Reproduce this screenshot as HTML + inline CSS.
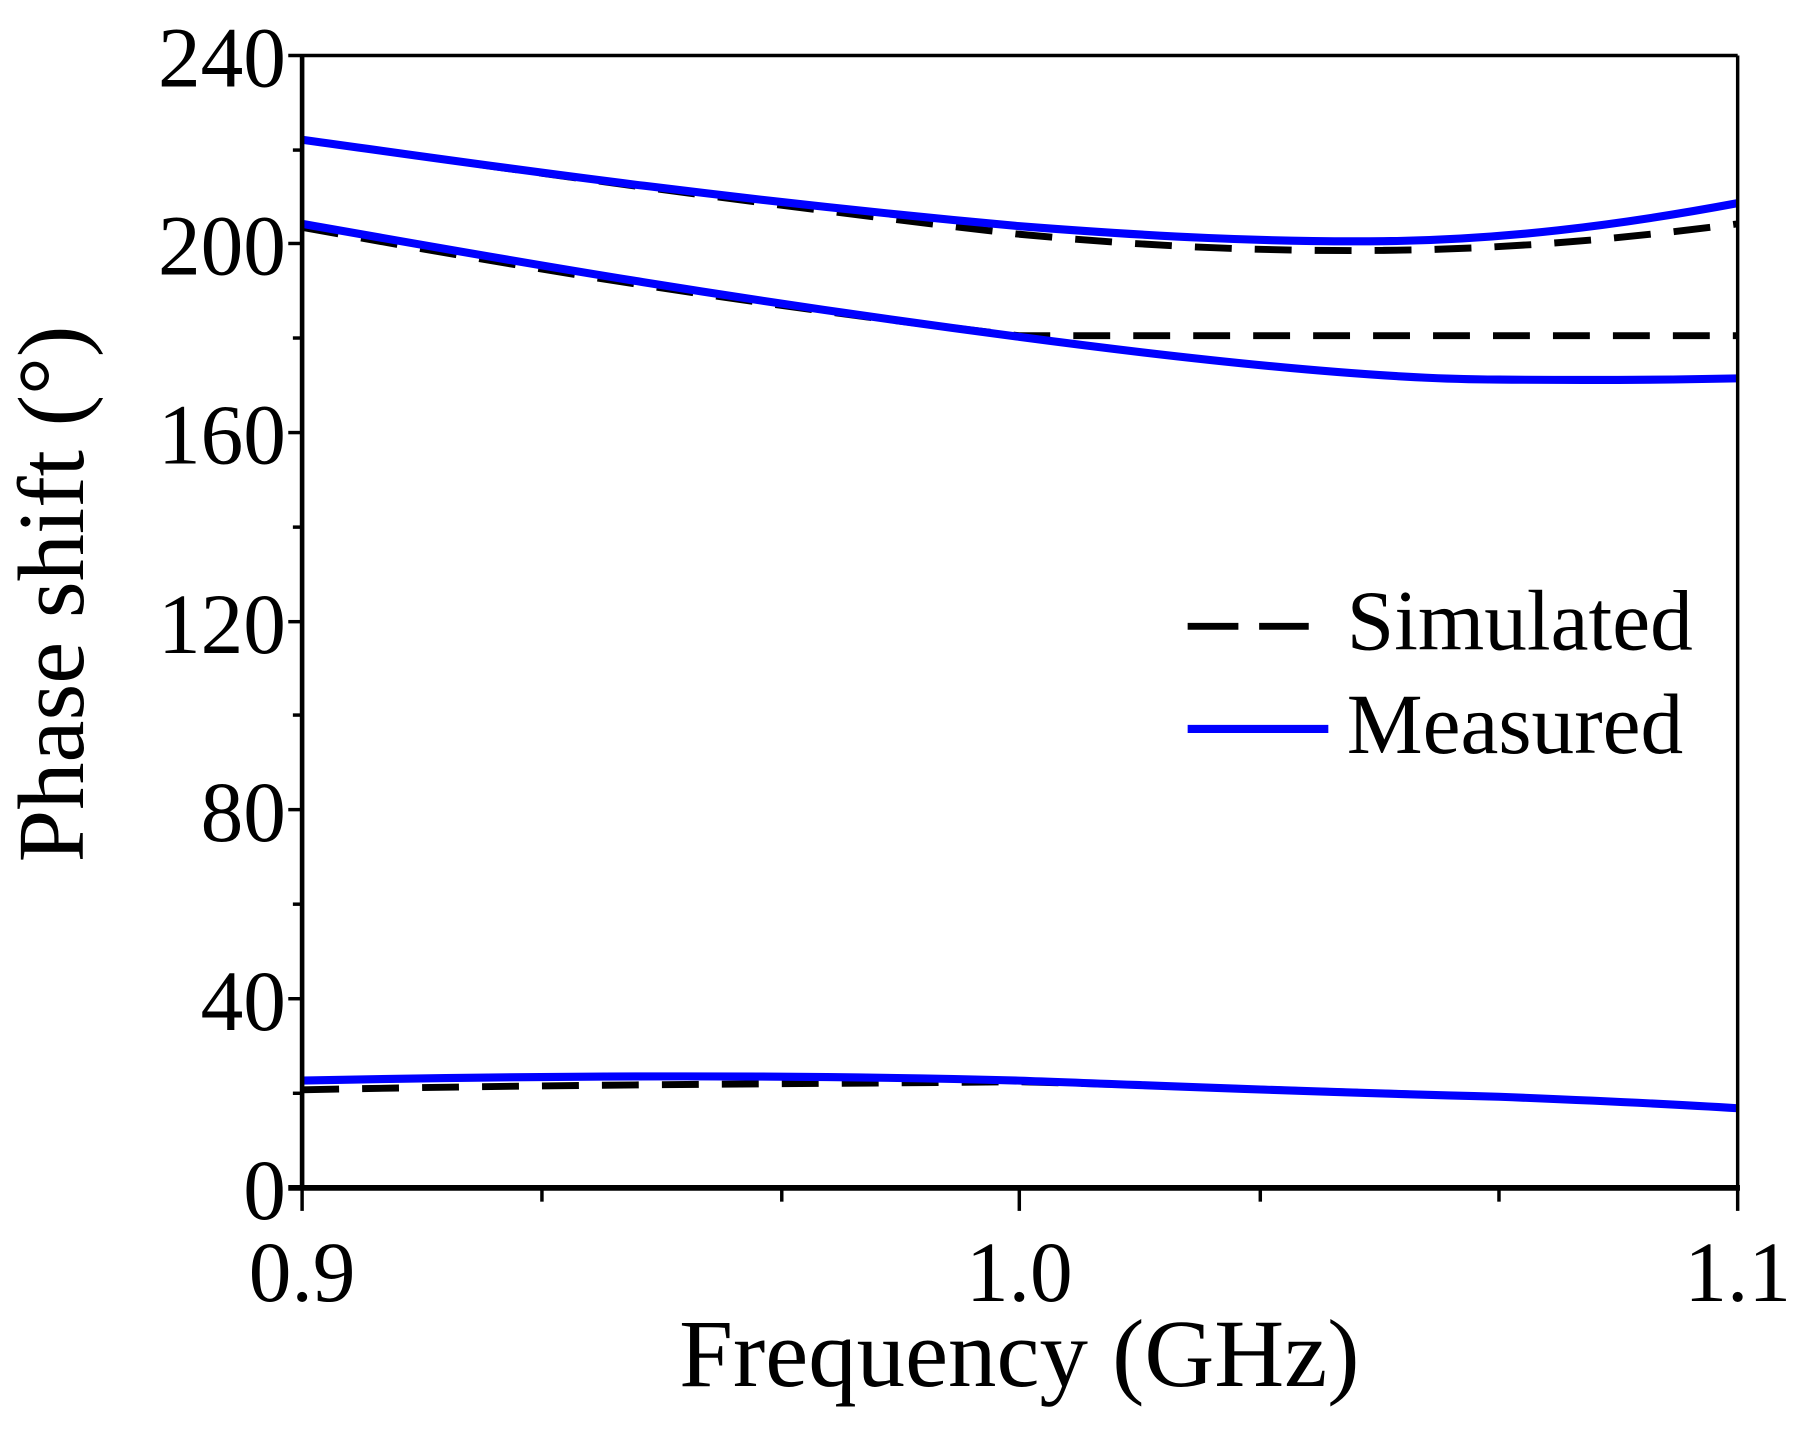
<!DOCTYPE html>
<html><head><meta charset="utf-8"><style>html,body{margin:0;padding:0;background:#fff}svg{display:block}</style></head>
<body>
<svg width="1808" height="1429" viewBox="0 0 1568 1239" xmlns="http://www.w3.org/2000/svg" font-family="Liberation Serif, serif">
<rect width="1568" height="1239" fill="#fff"/>
<g fill="none" stroke-linecap="butt" stroke-linejoin="round">
<path d="M262,121 C400,140 600,170 884,203 C1000,214 1100,218 1200,217 C1300,216 1400,208 1507,194" stroke="#000" stroke-width="6" stroke-dasharray="32,20"/>
<path d="M262,197 C400,222 600,258 884,291 L1507,291" stroke="#000" stroke-width="6" stroke-dasharray="32,20"/>
<path d="M262,945 C500,940 700,940 884,938 C1000,941 1100,945 1300,951 C1400,955 1460,958 1507,961" stroke="#000" stroke-width="6" stroke-dasharray="32,20"/>
<path d="M262,121 C400,140 600,170 884,196 C1000,205 1100,210 1200,209 C1300,208 1400,196 1507,176" stroke="#0000ff" stroke-width="7"/>
<path d="M262,194 C400,218 600,255 884,292 C1050,314 1200,329 1300,329 C1400,330 1460,329 1507,328" stroke="#0000ff" stroke-width="7"/>
<path d="M262,937 C500,932 700,932 884,937 C1000,941 1100,946 1300,951 C1400,955 1460,958 1507,961" stroke="#0000ff" stroke-width="7"/>
</g>
<g stroke="#000" fill="none">
<line x1="262" y1="48" x2="262" y2="1032" stroke-width="4"/>
<line x1="250" y1="1030" x2="1509" y2="1030" stroke-width="5"/>
<line x1="250" y1="48" x2="1507" y2="48" stroke-width="3"/>
<line x1="1507" y1="48" x2="1507" y2="1050" stroke-width="3"/>
<g stroke-width="3">
<line x1="250" y1="211" x2="262" y2="211"/><line x1="250" y1="375" x2="262" y2="375"/>
<line x1="250" y1="539" x2="262" y2="539"/><line x1="250" y1="702" x2="262" y2="702"/>
<line x1="250" y1="866" x2="262" y2="866"/>
<line x1="254" y1="130" x2="262" y2="130"/><line x1="254" y1="293" x2="262" y2="293"/>
<line x1="254" y1="457" x2="262" y2="457"/><line x1="254" y1="620" x2="262" y2="620"/>
<line x1="254" y1="784" x2="262" y2="784"/><line x1="254" y1="948" x2="262" y2="948"/>
<line x1="262" y1="1030" x2="262" y2="1050"/><line x1="884" y1="1030" x2="884" y2="1050"/>
<line x1="470" y1="1030" x2="470" y2="1042"/><line x1="678" y1="1030" x2="678" y2="1042"/>
<line x1="1093" y1="1030" x2="1093" y2="1042"/><line x1="1300" y1="1030" x2="1300" y2="1042"/>
</g>
</g>
<g font-size="74" fill="#000" text-anchor="end">
<text x="248" y="75">240</text><text x="248" y="238">200</text><text x="248" y="402">160</text>
<text x="248" y="566">120</text><text x="248" y="729">80</text><text x="248" y="893">40</text>
<text x="248" y="1057">0</text>
</g>
<g font-size="74" fill="#000" text-anchor="middle">
<text x="262" y="1128">0.9</text><text x="884" y="1128">1.0</text><text x="1507" y="1128">1.1</text>
</g>
<text x="884" y="1202" font-size="84" text-anchor="middle">Frequency (GHz)</text>
<text transform="translate(72,515) rotate(-90)" font-size="82" text-anchor="middle">Phase shift (°)</text>
<line x1="1030" y1="543" x2="1135" y2="543" stroke="#000" stroke-width="6" stroke-dasharray="44,18"/>
<text x="1168" y="563" font-size="74">Simulated</text>
<line x1="1030" y1="632" x2="1152" y2="632" stroke="#0000ff" stroke-width="7"/>
<text x="1168" y="653" font-size="74">Measured</text>
</svg>
</body></html>
